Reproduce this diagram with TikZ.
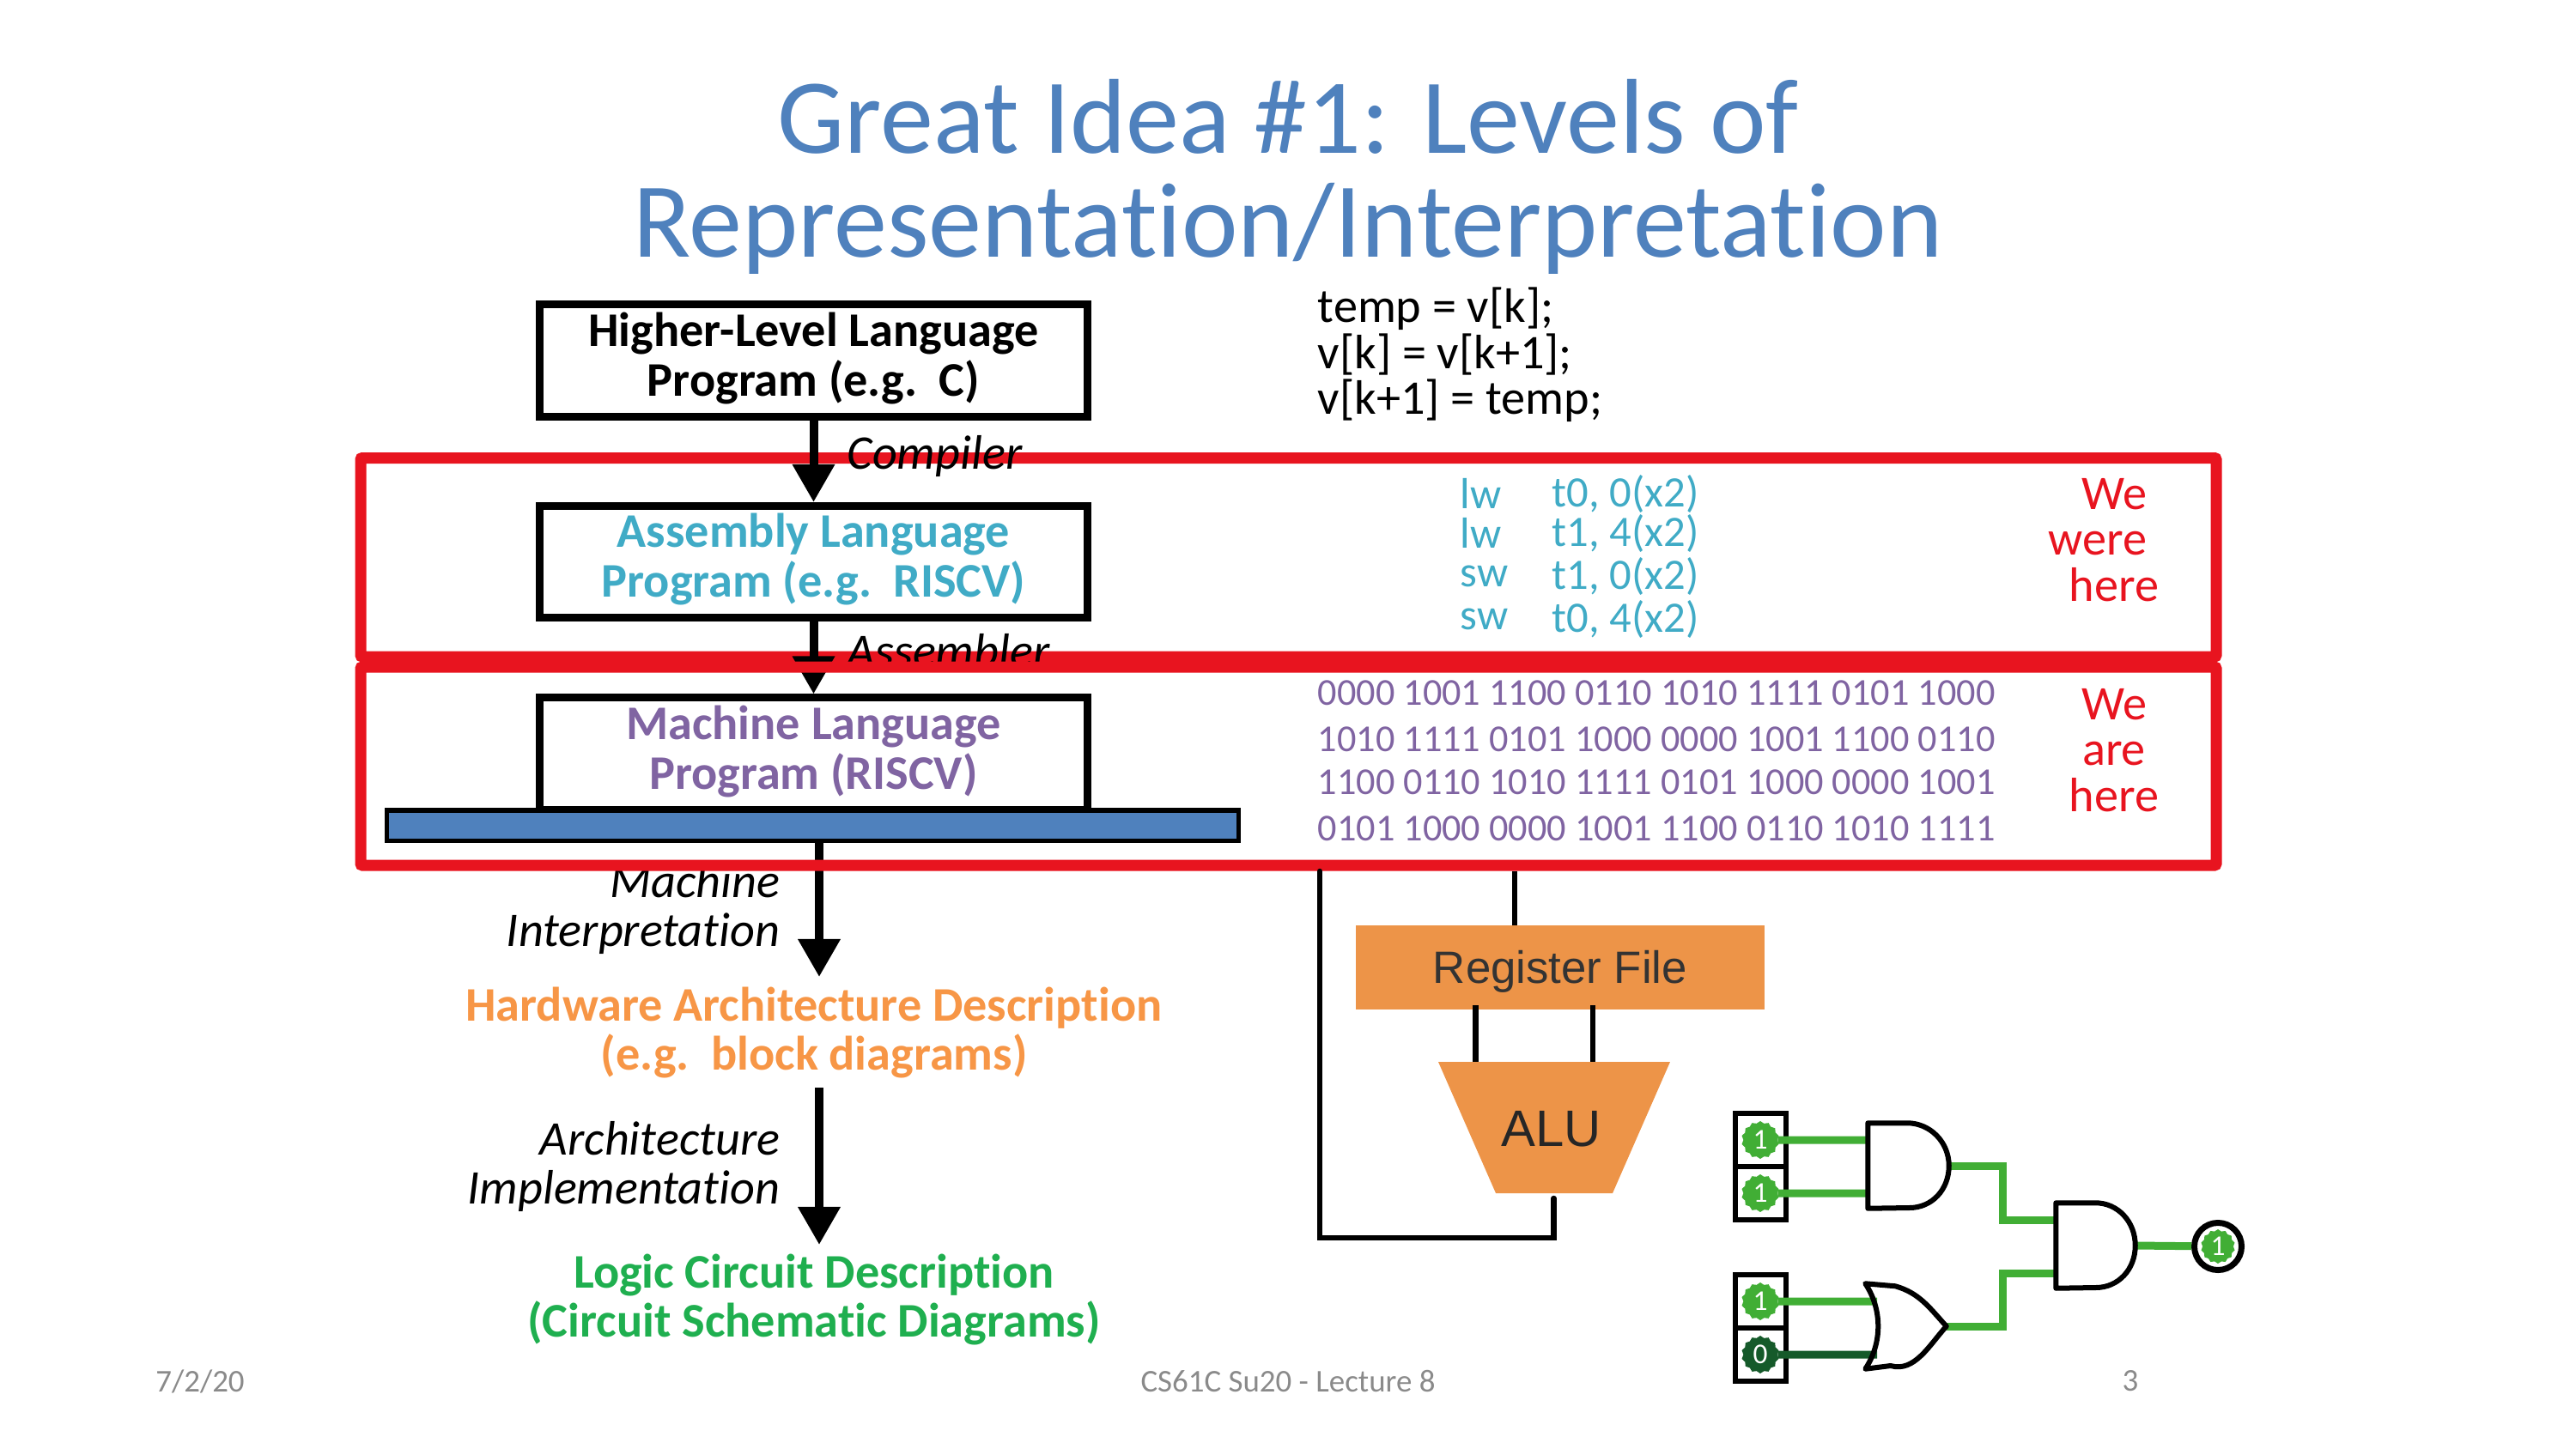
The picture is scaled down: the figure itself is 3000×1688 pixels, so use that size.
\documentclass[tikz,border=0pt]{standalone}
\usepackage{fontspec}
\setmainfont[Ligatures=NoCommon]{Carlito}
\newfontfamily\arialfont{Liberation Sans}
\usetikzlibrary{arrows.meta,shapes.geometric}
\definecolor{titleblue}{HTML}{4F81BD}
\definecolor{redbox}{HTML}{E8141F}
\definecolor{asmcol}{HTML}{40ABC6}
\definecolor{machcol}{HTML}{8064A2}
\definecolor{hwcol}{HTML}{F79646}
\definecolor{logiccol}{HTML}{1FAF4F}
\definecolor{blockcol}{HTML}{ED9448}
\definecolor{wireon}{HTML}{41AE35}
\definecolor{wireoff}{HTML}{155A2A}
\tikzset{
  lang box/.style={draw,line width=.09cm,minimum width=6.37cm,minimum height=1.3cm,inner sep=0pt,align=center,text depth=.15cm,font=\fontsize{16}{16.4}\selectfont\bfseries},
  step text/.style={font=\fontsize{16}{16.4}\selectfont\itshape,inner sep=0pt},
  code text/.style={font=\fontsize{16}{15.3}\selectfont,inner sep=0pt,anchor=west},
  asm text/.style={font=\fontsize{14.4}{15.3}\selectfont,text=asmcol,inner sep=0pt,anchor=west},
  bin text/.style={font=\fontsize{12.6}{15.3}\selectfont,text=machcol,inner sep=0pt,anchor=west},
  level text/.style={font=\fontsize{16}{16.4}\selectfont\bfseries,inner sep=0pt,align=center},
  note text/.style={font=\fontsize{16}{15.3}\selectfont,text=redbox,inner sep=0pt,align=center},
  foot text/.style={font=\fontsize{10.5}{12}\selectfont,text=black!46,inner sep=0pt},
  flow/.style={line width=.1cm,-{Triangle[width=.47cm,length=.44cm]}},
  red box/.style={draw=redbox,line width=.13cm,rounded corners=.02cm},
  wire/.style={line width=.065cm},
  sig/.style={line width=.09cm,draw=wireon},
  pin box/.style={draw,line width=.06cm,minimum width=.59cm,minimum height=.62cm,inner sep=0pt},
  pin/.style={star,star points=14,star point ratio=1.12,fill=wireon,minimum size=.44cm,inner sep=0pt,text=white,font=\fontsize{9.5}{10}\selectfont},
  gate body/.style={minimum width=.93cm,minimum height=.98cm,inner sep=0pt},
  gate line/.style={line width=.06cm,line join=round},
}
\begin{document}
\begin{tikzpicture}[x=.01cm,y=-.01cm]
  \useasboundingbox (0,0) rectangle (3000,1688);

  \node[font=\fontsize{35.3}{34.3}\selectfont,text=titleblue,align=center,inner sep=0pt] (title) at (1500,206)
    {Great Idea \#1: Levels of\\Representation/Interpretation};

  % red box one goes under the arrows
  \draw[red box] (420,533.5) rectangle (2581,765);

  \node[lang box] (hll) at (947.5,420) {Higher-Level Language\\Program (e.g.\ \ C)};
  \node[lang box,text=asmcol] (asm) at (947.5,654.5) {Assembly Language\\Program (e.g.\ \ RISCV)};
  \node[lang box,text=machcol] (mach) at (947.5,878) {Machine Language\\Program (RISCV)};
  \node[draw,line width=.05cm,fill=titleblue,minimum width=9.91cm,minimum height=.35cm,inner sep=0pt] (bar) at (946.5,961.5) {};

  \node[level text,text=hwcol] (hw) at (948,1203) {Hardware Architecture Description\\(e.g.\ \ block diagrams)};
  \node[level text,text=logiccol] (logic) at (948,1514) {Logic Circuit Description\\(Circuit Schematic Diagrams)};

  \coordinate (mi1) at (954,981);
  \coordinate (mi2) at (954,1138);
  \coordinate (ai1) at (954,1267);
  \coordinate (ai2) at (954,1450);
  \draw[flow] (hll.south) -- (asm.north);
  \draw[flow] (asm.south) -- (mach.north);
  \draw[flow] (mi1) -- (mi2);
  \draw[flow] (ai1) -- (ai2);

  \node[step text,anchor=west] (comp) at (986,531) {Compiler};
  \node[step text,anchor=west] (assem) at (986,758) {Assembler};
  \node[step text,align=right,anchor=east] (mint) at (909,1059) {Machine\\Interpretation};
  \node[step text,align=right,anchor=east] (aimp) at (909,1359) {Architecture\\Implementation};

  % this one sits on top and hides what it crosses
  \draw[red box] (420,777) rectangle (2581,1008);

  \node[code text] (c1) at (1534,360) {temp = v[k];};
  \node[code text] (c2) at (1534,413) {v[k] = v[k+1];};
  \node[code text] (c3) at (1534,467) {v[k+1] = temp;};

  \foreach \y/\op/\arg [count=\i] in {575/lw/{t0, 0(x2)},621/lw/{t1, 4(x2)},671/sw/{t1, 0(x2)},721/sw/{t0, 4(x2)}} {
    \node[asm text] (op\i) at (1700,\y) {\op};
    \node[asm text] (arg\i) at (1807,\y) {\arg};
  }
  \foreach \y/\bits [count=\i] in {807/0000 1001 1100 0110 1010 1111 0101 1000,861/1010 1111 0101 1000 0000 1001 1100 0110,911/1100 0110 1010 1111 0101 1000 0000 1001,965/0101 1000 0000 1001 1100 0110 1010 1111} {
    \node[bin text] (bin\i) at (1534,\y) {\bits};
  }

  \node[note text] (were) at (2462,629) {We\\were\rule{.38cm}{0pt}\\here};
  \node[note text] (are) at (2462,874) {We\\are\\here};

  % block diagram
  \node[fill=blockcol,minimum width=4.75cm,minimum height=.98cm,inner sep=0pt,text height=.48cm,font=\arialfont\fontsize{15}{17}\selectfont,text=black!80] (reg) at (1817,1127) {Register File};
  \fill[blockcol] (1675,1237) -- (1945,1237) -- (1878,1390) -- (1742,1390) -- cycle;
  \node[inner sep=0pt,font=\arialfont\fontsize{17}{19}\selectfont,text=black!85] (alu) at (1807,1315) {ALU};
  \coordinate (loop1) at (1537,1015);
  \coordinate (loop2) at (1764,1015);
  \coordinate (loop3) at (1537,1442);
  \coordinate (loop4) at (1809.5,1442);
  \coordinate (loop5) at (1809.5,1396);
  \coordinate (in1) at (1718.5,1171);
  \coordinate (in2) at (1855,1171);
  \draw[wire] (loop2) -- (1764,1078);
  \draw[wire,line cap=round] (loop1) -- (loop3) -- (loop4) -- (loop5);
  \draw[wire] (in1) -- (1718.5,1237);
  \draw[wire] (in2) -- (1855,1237);

  % logic circuit
  \node[pin box] (b1) at (2050.5,1328) {};
  \node[pin box] (b2) at (2050.5,1390) {};
  \node[pin box] (b3) at (2050.5,1516) {};
  \node[pin box] (b4) at (2050.5,1578) {};
  \node[pin] (p1) at (2050,1328) {1};
  \node[pin] (p2) at (2050,1390) {1};
  \node[pin] (p3) at (2050,1516) {1};
  \node[pin,fill=wireoff] (p4) at (2050,1578) {0};

  \node[gate body] (g1) at (2222.5,1358) {};
  \node[gate body] (g2) at (2219.5,1545) {};
  \node[gate body,minimum width=.91cm] (g3) at (2440.5,1451) {};
  \coordinate (g2in) at (2186,1545);
  \coordinate (mid1) at (2332,1421);
  \coordinate (mid2) at (2332,1483);
  \node[circle,draw,line width=.07cm,minimum size=.55cm,inner sep=0pt] (out) at (2583,1452) {};
  \node[pin,minimum size=.4cm] (q) at (2583,1452) {1};

  \draw[sig] (p1) -- (p1 -| g1.west);
  \draw[sig] (p2) -- (p2 -| g1.west);
  \draw[sig] (p3) -- (p3 -| g2in);
  \draw[sig,draw=wireoff] (p4) -- (p4 -| g2in);
  \draw[sig] (g1.east) -| (mid1) -- (mid1 -| g3.west);
  \draw[sig] (g2.east) -| (mid2) -- (mid2 -| g3.west);
  \draw[sig] (g3.east) -- (out);

  \foreach \g in {g1,g3} {
    \draw[gate line] (\g.north west) -- ++(46,0) .. controls +(26,0) and +(0,-28) .. (\g.east) .. controls +(0,28) and +(26,0) .. ++(-46,49) -- (\g.south west) -- cycle;
  }
  \draw[gate line] (g2.north west) -- ++(35,3) .. controls +(28,8) and +(-20,-22) .. (g2.east) .. controls +(-20,22) and +(28,8) .. ++(-65,46) -- (g2.south west) .. controls +(20,-30) and +(20,30) .. (g2.north west) -- cycle;

  \node[foot text] (date) at (233,1609) {7/2/20};
  \node[foot text] (course) at (1500,1609) {CS61C Su20 - Lecture 8};
  \node[foot text] (num) at (2481,1609) {3};
\end{tikzpicture}
\end{document}
